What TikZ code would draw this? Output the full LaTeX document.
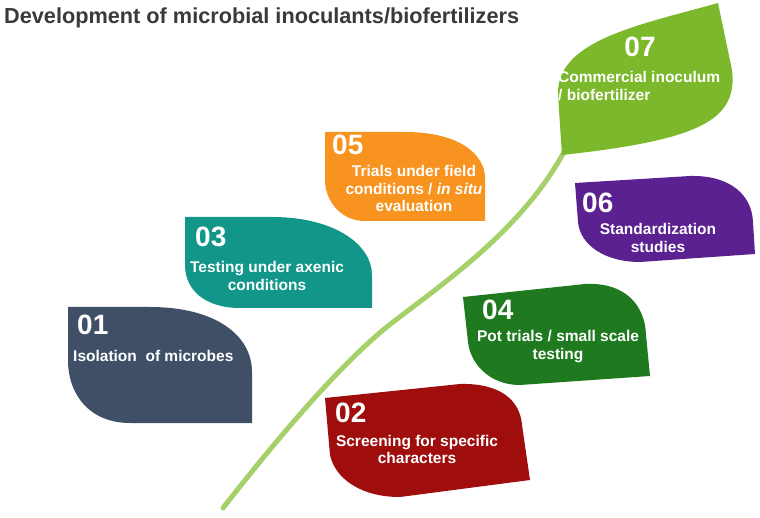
\documentclass[tikz,border=0pt]{standalone}
\usepackage{fontspec}
\setmainfont{Liberation Sans}
\definecolor{c01}{HTML}{3F5066}
\definecolor{c02}{HTML}{A00D0D}
\definecolor{c03}{HTML}{12968A}
\definecolor{c04}{HTML}{1F7A1F}
\definecolor{c05}{HTML}{F7931E}
\definecolor{c06}{HTML}{5B2190}
\definecolor{c07}{HTML}{7BB82C}
\definecolor{stemc}{HTML}{A6D16A}
\definecolor{titlec}{HTML}{3A3A3A}
\begin{document}
\begin{tikzpicture}[x=1pt,y=-1pt,
  num/.style={font=\bfseries\fontsize{28}{28}\selectfont, text=white, inner sep=0pt, anchor=base west},
  lab/.style={font=\bfseries\fontsize{15.5}{17.5}\selectfont, text=white, inner sep=0pt, align=center, anchor=base},
  stemline/.style={line width=5pt, draw=stemc, line cap=round}]
\useasboundingbox (0,0) rectangle (760,518);
\fill[white] (0,0) rectangle (760,518);
% title
\node[font=\bfseries\fontsize{21.7}{24}\selectfont, text=titlec, anchor=base west, inner sep=0pt] (title) at (4,24) {Development of microbial inoculants/biofertilizers};
% stem
\coordinate (sb) at (223,508);
\coordinate (sm) at (383,330);
\coordinate (st) at (565,150);
\draw[stemline] (sb) .. controls (270,448) and (330,375) .. (sm) .. controls (430,292) and (520,235) .. (st);
% leaf 01
\fill[c01] (68,307) -- (150,307) .. controls (215,307) and (252,335) .. (252,372) -- (252,423) -- (130,423) .. controls (90,423) and (68,395) .. (68,360) -- cycle;
% leaf 03
\fill[c03] (185,217) -- (272,217) .. controls (335,217) and (372,245) .. (372,275) -- (372,308) -- (240,308) .. controls (205,308) and (185,290) .. (185,265) -- cycle;
% leaf 05
\fill[c05] (325,132) -- (405,132) .. controls (460,132) and (485,155) .. (485,178) -- (485,221) -- (365,221) .. controls (340,221) and (325,200) .. (325,180) -- cycle;
% leaf 07
\fill[c07] (562,155) -- (558,95) .. controls (556,40) and (640,25) .. (718,3) -- (732,70) .. controls (738,120) and (700,140) .. (562,155) -- cycle;
% leaf 06
\fill[c06] (575,183) -- (690,176) .. controls (730,175) and (752,195) .. (753,222) -- (755,254) -- (640,262) .. controls (605,262) and (580,245) .. (578,222) -- cycle;
% leaf 04
\fill[c04] (463,297) -- (585,284) .. controls (625,282) and (645,305) .. (646,335) -- (650,376) -- (520,385) .. controls (488,385) and (470,362) .. (468,342) -- cycle;
% leaf 02
\fill[c02] (325,398) -- (460,384) .. controls (500,383) and (520,400) .. (522,425) -- (530,480) -- (400,497) .. controls (360,497) and (335,478) .. (330,455) -- cycle;
% texts (multi-line nodes: base = last line)
\node[num] (n01) at (77,335) {01};
\node[lab, anchor=base west] (t01) at (73,362) {Isolation\ \ of microbes};
\node[num] (n03) at (195,247) {03};
\node[lab] (t03) at (267,290.5) {Testing under axenic\\conditions};
\node[num] (n05) at (332,155) {05};
\node[lab] (t05) at (414,212) {Trials under field\\conditions / \textit{in situ}\\evaluation};
\node[num, anchor=base] (n07) at (640,57) {07};
\node[lab, align=left, anchor=base west] (t07) at (558,100.5) {Commercial inoculum\\/ biofertilizer};
\node[num] (n06) at (582,213) {06};
\node[lab] (t06) at (658,252.5) {Standardization\\studies};
\node[num] (n04) at (482,320) {04};
\node[lab] (t04) at (558,359.5) {Pot trials / small scale\\testing};
\node[num] (n02) at (335,422) {02};
\node[lab] (t02) at (417,463.5) {Screening for specific\\characters};
\end{tikzpicture}
\end{document}
